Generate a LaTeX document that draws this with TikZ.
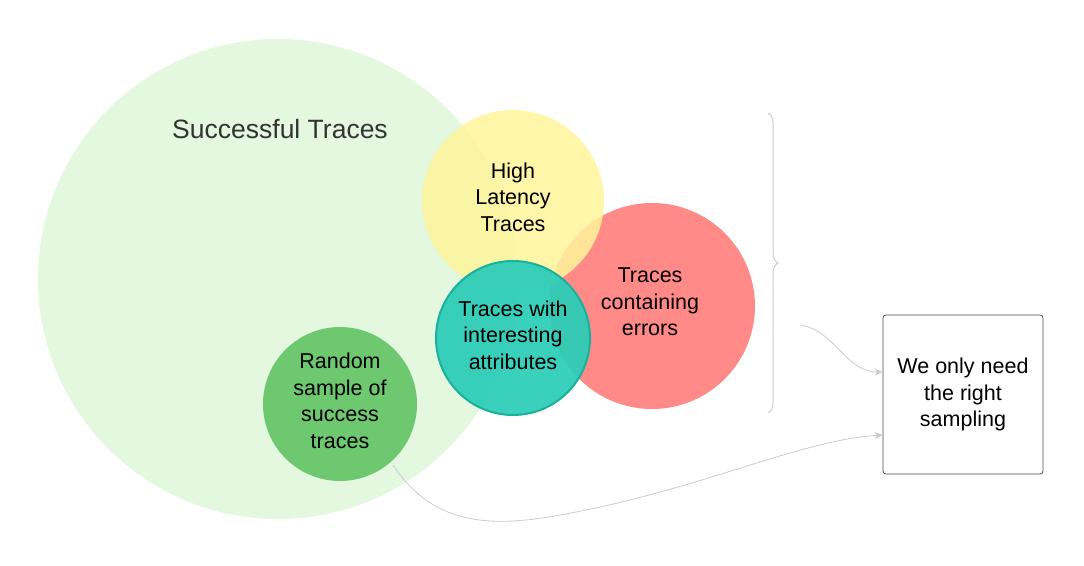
\documentclass[tikz,border=0pt]{standalone}
\usepackage{fontspec}
\setmainfont{Liberation Sans}
\usetikzlibrary{decorations.pathreplacing,arrows.meta}
\definecolor{bigc}{HTML}{E3F8DF}
\definecolor{yel}{HTML}{FFF59A}
\definecolor{redc}{HTML}{FF8A87}
\definecolor{teal}{HTML}{2ECDB8}
\definecolor{tealb}{HTML}{18B29C}
\definecolor{grn}{HTML}{6DC870}
\definecolor{lnk}{HTML}{C8CCD0}
\begin{document}
\begin{tikzpicture}[x=1pt,y=-1pt,
  circ/.style={circle,inner sep=0pt,align=center,font=\fontsize{21.5}{26.5}\selectfont},
  conn/.style={draw=lnk,line width=0.8pt,-{Stealth[length=8pt,width=7pt]}}]
\useasboundingbox (0,0) rectangle (1084,565);
\node[circ,fill=bigc,minimum size=480pt] (big) at (278,279) {};
\node[font=\fontsize{26.5}{30}\selectfont,text=black!80] (bigt) at (280,129) {Successful Traces};
\node[circ,fill=redc,minimum size=206pt] (red) at (652,306) {};
\node[circ,fill=yel,fill opacity=0.85,minimum size=182pt] (yel) at (513,201) {};
\node[circ,fill=teal,draw=tealb,line width=2pt,fill opacity=0.95,minimum size=154pt] (teal) at (513,338) {};
\node[circ,fill=grn,minimum size=154pt] (grn) at (340,404) {};
\node[circ] at (513,197) {High\\Latency\\Traces};
\node[circ] at (650,302) {Traces\\containing\\errors};
\node[circ] at (513,335) {Traces with\\interesting\\attributes};
\node[circ] at (340,401) {Random\\sample of\\success\\traces};
\node[draw=black!70,rounded corners=3pt,line width=0.8pt,minimum width=160pt,minimum height=159pt,align=center,font=\fontsize{21.5}{26.5}\selectfont] (box) at (963,394.5) {We only need\\the right\\sampling};
\draw[lnk,line width=1pt,decorate,decoration={brace,amplitude=10pt}] (768,113) -- (768,413);
\coordinate (bs) at (800,325);
\coordinate (gs) at (393,465);
\draw[conn] (bs) .. controls (835,330) and (845,372) .. (box.west |- 0,372);
\draw[conn] (gs) .. controls (430,520) and (480,530) .. (560,515) .. controls (700,490) and (800,440) .. (box.west |- 0,435);
\end{tikzpicture}
\end{document}
